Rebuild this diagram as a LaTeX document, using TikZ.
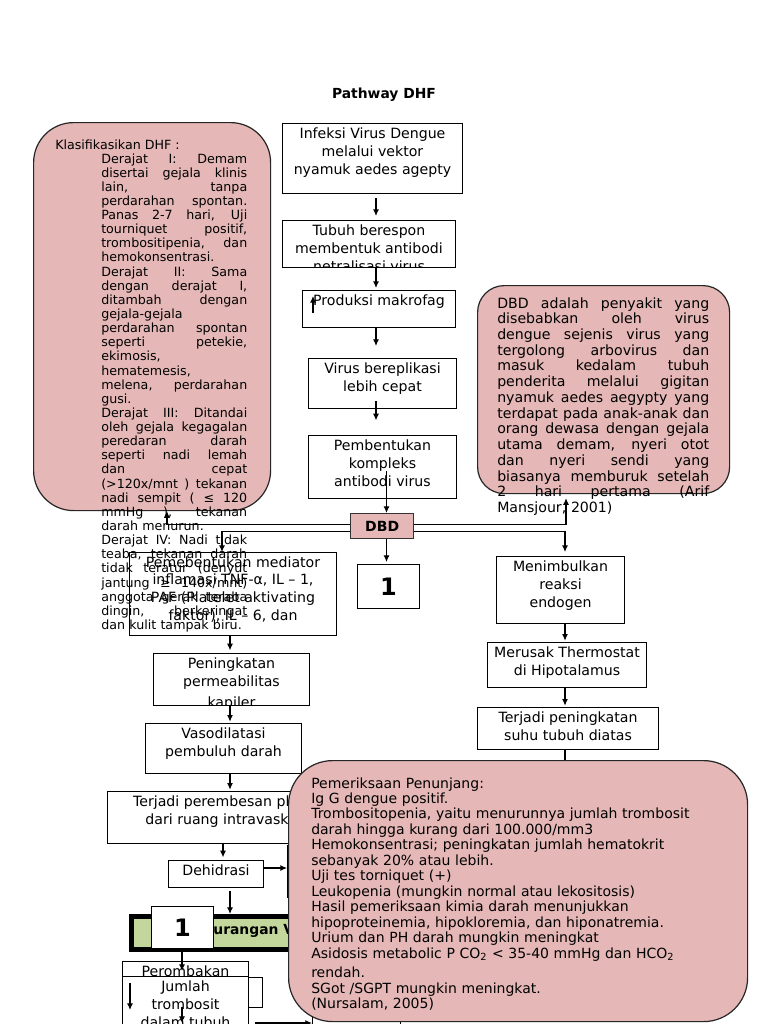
\documentclass[tikz,border=0pt]{standalone}
\usepackage{fontspec}
\setmainfont{DejaVu Sans}
\usetikzlibrary{positioning,calc,arrows.meta}

\definecolor{pinkbox}{RGB}{229,184,183}
\definecolor{greenbox}{RGB}{195,214,155}

\newdimen\pxu \pxu=0.75pt
% box text: width, height (in px), lines
\newcommand{\boxtext}[3]{\parbox[t][#2\pxu][t]{#1\pxu}{\centering\vspace*{4\pxu}#3}}
% justified line
\newcommand{\jl}[1]{{\spaceskip=0pt\xspaceskip=0pt\makebox[\hsize][s]{#1}}}

\tikzset{
  flowbox/.style={draw, fill=white, line width=0.75pt, inner sep=0pt,
                  font=\fontsize{10.6}{13.5}\selectfont},
  openbox/.style={draw, line width=0.75pt, inner sep=0pt,
                  font=\fontsize{10.6}{13.3}\selectfont},
  infobox/.style={draw=black!85, fill=pinkbox, line width=0.9pt, inner sep=0pt},
  numbox/.style={draw, fill=white, line width=0.75pt, inner sep=0pt,
                 font=\fontsize{18}{20}\selectfont\bfseries},
  infotext/.style={anchor=base west, inner sep=0pt, align=left},
  arr/.style={-{Latex[length=5pt,width=4.5pt]}, line width=0.8pt},
  link/.style={line width=0.8pt},
}

\begin{document}
\begin{tikzpicture}[x=0.75pt, y=-0.75pt]
\fill[white] (0,0) rectangle (768,1024);
\useasboundingbox (0,0) rectangle (768,1024);

\node[font=\fontsize{10.4}{12}\selectfont\bfseries] (title) at (384,95) {Pathway DHF};

% klasifikasi
\node[infobox, rounded corners=30pt, anchor=north west,
      minimum width=177.75pt, minimum height=291pt] (klas) at (33,122) {};
\node[infotext, font=\fontsize{9.5}{10.6}\selectfont] (klas-title) at (55,149) {Klasifikasikan DHF :};
\node[infotext, text width=109.5pt, font=\fontsize{9.5}{10.6}\selectfont] (klas-text) at (101,163)
{\jl{Derajat I: Demam}\\
\jl{disertai gejala klinis}\\
\jl{lain, tanpa}\\
\jl{perdarahan spontan.}\\
\jl{Panas 2-7 hari, Uji}\\
\jl{tourniquet positif,}\\
\jl{trombositipenia, dan}\\
hemokonsentrasi.\\
\jl{Derajat II: Sama}\\
\jl{dengan derajat I,}\\
\jl{ditambah dengan}\\
gejala-gejala\\
\jl{perdarahan spontan}\\
\jl{seperti petekie,}\\
ekimosis,\\
hematemesis,\\
\jl{melena, perdarahan}\\
gusi.\\
\jl{Derajat III: Ditandai}\\
\jl{oleh gejala kegagalan}\\
\jl{peredaran darah}\\
\jl{seperti nadi lemah}\\
\jl{dan cepat}\\
\jl{(>120x/mnt ) tekanan}\\
\jl{nadi sempit ( ≤ 120}\\
\jl{mmHg ), tekanan}\\
darah menurun.\\
\jl{Derajat IV: Nadi tidak}\\
\jl{teaba, tekanan darah}\\
\jl{tidak teratur (denyut}\\
\jl{jantung ≥ 140x/mnt)}\\
\jl{anggota gerak teraba}\\
\jl{dingin, berkeringat}\\
dan kulit tampak biru.};

% definisi DBD
\node[infobox, rounded corners=20pt, anchor=north west,
      minimum width=189pt, minimum height=156pt] (dbdinfo) at (477,285) {};
\node[infotext, text width=159pt, font=\fontsize{10.6}{11.8}\selectfont] (dbdinfo-text) at (497,308)
{\jl{DBD adalah penyakit yang}\\
\jl{disebabkan oleh virus}\\
\jl{dengue sejenis virus yang}\\
\jl{tergolong arbovirus dan}\\
\jl{masuk kedalam tubuh}\\
\jl{penderita melalui gigitan}\\
\jl{nyamuk aedes aegypty yang}\\
\jl{terdapat pada anak-anak dan}\\
\jl{orang dewasa dengan gejala}\\
\jl{utama demam, nyeri otot}\\
\jl{dan nyeri sendi yang}\\
\jl{biasanya memburuk setelah}\\
\jl{2 hari pertama (Arif}\\
Mansjour, 2001)};

% centre column
\coordinate (spine) at (376,0);
\node[flowbox, anchor=north west] (infeksi) at (282,123)
  {\boxtext{180}{70}{Infeksi Virus Dengue\\melalui vektor\\nyamuk aedes agepty}};
\begin{scope}
\clip (270,210) rectangle (470,267.5);
\node[flowbox, anchor=north west] (tubuh) at (282,220)
  {\boxtext{173}{47}{Tubuh berespon\\membentuk antibodi\\netralisasi virus}};
\end{scope}
\node[flowbox, anchor=north west] (produksi) at (302,290)
  {\boxtext{153}{37}{Produksi makrofag}};
\node[flowbox, anchor=north west] (replikasi) at (308,358)
  {\boxtext{148}{50}{Virus bereplikasi\\lebih cepat}};
\node[flowbox, anchor=north west] (kompleks) at (308,435)
  {\boxtext{148}{63}{Pembentukan\\kompleks\\antibodi virus}};
\node[draw=black!80, fill=pinkbox, line width=1pt, anchor=north west,
      minimum width=47.25pt, minimum height=18.75pt, inner sep=0pt,
      font=\fontsize{10.5}{12}\selectfont\bfseries] (dbd) at (350,513) {DBD};
\node[numbox, anchor=north west, minimum width=46.5pt, minimum height=33pt] (satu) at (357,564) {1};

% left column
\coordinate (lcol) at (230,0);
\node[openbox, anchor=north west] (mediator) at (129,552)
  {\boxtext{207}{83}{Pemebentukan mediator\\inflamasi TNF-α, IL – 1,\\PAF (Platelet aktivating\\faktor), IL – 6, dan}};
\begin{scope}
\clip (140,640) rectangle (320,705.5);
\node[flowbox, anchor=north west] (kapiler) at (153,653)
  {\boxtext{156}{52}{Peningkatan\\permeabilitas\\[3\pxu]kapiler}};
\end{scope}
\node[flowbox, anchor=north west] (vaso) at (145,723)
  {\boxtext{156}{50}{Vasodilatasi\\pembuluh darah}};
\node[flowbox, anchor=north west] (rembes) at (107,791)
  {\boxtext{246}{52}{Terjadi perembesan plasma\\dari ruang intravaskuler}};
\node[flowbox, anchor=north west] (dehidrasi) at (168,860)
  {\boxtext{95}{27}{Dehidrasi}};
\node[flowbox, anchor=north west, minimum width=84.75pt, minimum height=39pt] (syok) at (287,845) {};
\node[draw=black, line width=3.4pt, fill=greenbox, anchor=north west,
      minimum width=158pt, minimum height=24.75pt] (kurang) at (129,914) {};
\node[anchor=west, inner sep=0pt, font=\fontsize{10.4}{12}\selectfont\bfseries] (kurang-text) at (184,931)
  {Kekurangan Volume Cairan};
\node[numbox, anchor=north west, minimum width=46.5pt, minimum height=31.5pt] (satub) at (151,906) {1};
\node[flowbox, anchor=north west, minimum width=66pt, minimum height=21pt] (bawah) at (312,1012) {};

% right column
\coordinate (rcol) at (565,0);
\node[flowbox, anchor=north west] (reaksi) at (496,556)
  {\boxtext{128}{67}{Menimbulkan\\reaksi\\endogen}};
\node[flowbox, anchor=north west] (thermo) at (487,642)
  {\boxtext{159}{45}{Merusak Thermostat\\di Hipotalamus}};
\node[flowbox, anchor=north west] (suhu) at (477,707)
  {\boxtext{181}{42}{Terjadi peningkatan\\suhu tubuh diatas}};

% connectors
\draw[arr, shorten <=3pt, shorten >=3pt] (infeksi.south -| spine) -- (spine |- tubuh.north);
\draw[arr, shorten >=1.5pt] (tubuh.south -| spine) -- (spine |- produksi.north);
\draw[arr, shorten >=9pt] (produksi.south -| spine) -- (spine |- replikasi.north);
\draw[arr, shorten <=-6pt, shorten >=11pt] (replikasi.south -| spine) -- (spine |- kompleks.north);
\draw[arr] ($(produksi.south west)+(11,-15)$) -- ++(0,-17);
\draw[arr] ($(kompleks.south)+(4,-28)$) coordinate (k-out) -- (k-out |- dbd.north);
\draw[arr, shorten >=1.5pt] (k-out |- dbd.south) -- (k-out |- satu.north);
\draw[arr] ($(dbd.west)+(0,-1.5)$) -| (167,0 |- klas.south);
\draw[arr] ($(dbd.west)+(0,5.5)$) -| (222,0 |- mediator.north);
\draw[arr, shorten >=3pt] ($(dbd.east)+(0,-1.5)$) -| (566,0 |- dbdinfo.south);
\draw[arr, shorten >=3pt] ($(dbd.east)+(0,5.5)$) -| (rcol |- reaksi.north);
\draw[arr, shorten >=2pt] (mediator.south -| lcol) -- (lcol |- kapiler.north);
\draw[arr, shorten >=1pt] (kapiler.south -| lcol) -- (lcol |- vaso.north);
\draw[arr, shorten >=1pt] (vaso.south -| lcol) -- (lcol |- rembes.north);
\draw[arr, shorten >=2pt] (rembes.south -| 223,0) -- (223,0 |- dehidrasi.north);
\draw[arr, shorten <=2pt] (dehidrasi.south -| lcol) -- (lcol |- kurang.north);
\draw[arr] ($(dehidrasi.east)+(0,-6)$) coordinate (dh-out) -- (dh-out -| syok.west);
\draw[arr, shorten >=1pt] (reaksi.south -| rcol) -- (rcol |- thermo.north);
\draw[arr, shorten >=1pt] (thermo.south -| rcol) -- (rcol |- suhu.north);
\draw[arr] (255,1023) coordinate (jl-out) -- (jl-out -| bawah.west);

% pemeriksaan penunjang
\node[infobox, rounded corners=33pt, anchor=north west,
      minimum width=344.25pt, minimum height=195.75pt] (penunjang) at (288,760) {};
\draw[link] (suhu.south -| rcol) -- (rcol |- penunjang.north);
\node[infotext, text width=315pt, font=\fontsize{10.5}{11.6}\selectfont] (penunjang-text) at (311,788)
{Pemeriksaan Penunjang:\\
Ig G dengue positif.\\
Trombositopenia, yaitu menurunnya jumlah trombosit\\
darah hingga kurang dari 100.000/mm3\\
Hemokonsentrasi; peningkatan jumlah hematokrit\\
sebanyak 20\% atau lebih.\\
Uji tes torniquet (+)\\
Leukopenia (mungkin normal atau lekositosis)\\
Hasil pemeriksaan kimia darah menunjukkan\\
hipoproteinemia, hipokloremia, dan hiponatremia.\\
Urium dan PH darah mungkin meningkat\\
Asidosis metabolic P CO\textsubscript{2} < 35-40 mmHg dan HCO\textsubscript{2}\\[4\pxu]
rendah.\\
SGot /SGPT mungkin meningkat.\\
(Nursalam, 2005)};

% bottom
\node[flowbox, anchor=north west] (rombak) at (122,961)
  {\boxtext{126}{29}{Perombakan}};
\node[flowbox, anchor=north west, minimum width=46.5pt, minimum height=22.5pt] (rombakb) at (200,977) {};
\draw[arr] (satub.south -| 182,0) -- ++(0,22);
\node[flowbox, anchor=north west] (jumlah) at (122,976)
  {\boxtext{126}{64}{Jumlah\\trombosit\\dalam tubuh}};
\draw[arr] ($(jumlah.north west)+(8,7)$) -- ++(0,27);
\draw[arr] ($(jumlah.north west)+(60,31)$) -- ++(0,16);
\end{tikzpicture}
\end{document}
